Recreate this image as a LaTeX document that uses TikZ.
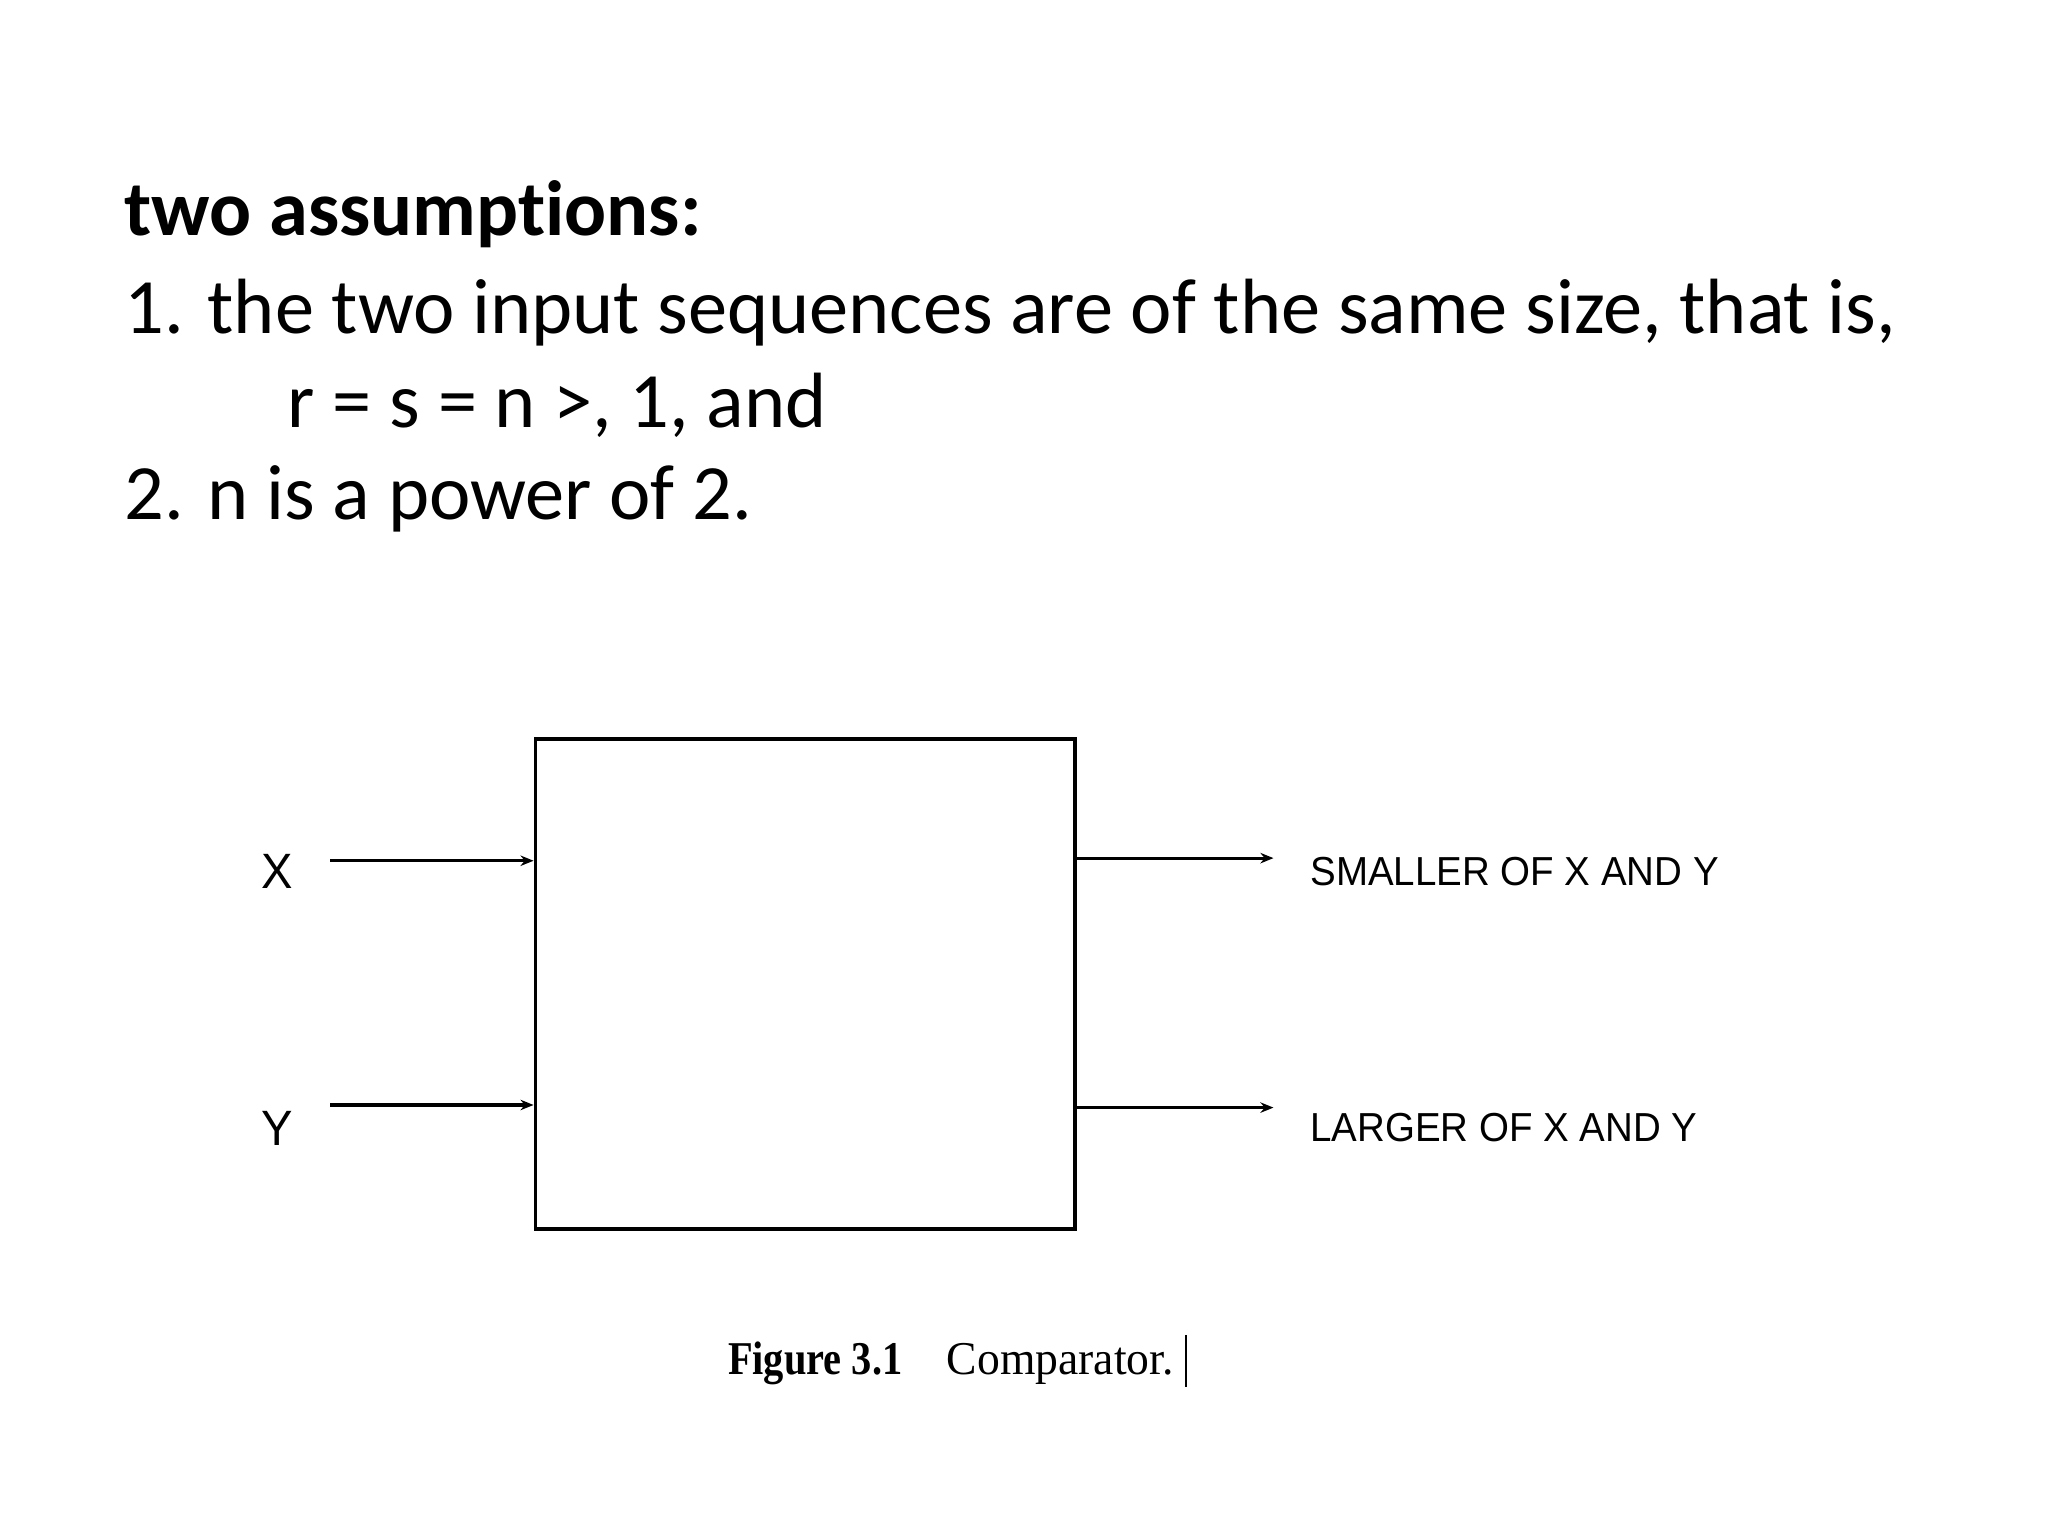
\documentclass[tikz,border=0pt]{standalone}
\usepackage{fontspec}
\setmainfont[RawFeature=-liga]{Carlito}
\newfontfamily\arialf{Liberation Sans}
\newfontfamily\timesf{Liberation Serif}
\usetikzlibrary{arrows.meta}
\begin{document}
\begin{tikzpicture}[x=0.5pt,y=-0.5pt,
  body/.style={anchor=base west,inner sep=0,font=\fontsize{30}{33}\selectfont},
  lab/.style={anchor=base west,inner sep=0,font=\arialf\fontsize{15.5}{18}\selectfont,xscale=0.95},
  io/.style={anchor=base west,inner sep=0,font=\arialf\fontsize{19}{22}\selectfont,xscale=0.95},
  wire/.style={line width=1.2pt,-{Stealth[length=5pt,width=4pt]}}]
\useasboundingbox (0,0) rectangle (1568,1176);
\node[body] (t0) at (95,180) {\textbf{two assumptions:}};
\node[body] (t1) at (95,255) {1. the two input sequences are of the same size, that is,};
\node[body] (t2) at (220,327) {r = s = n >, 1, and};
\node[body] (t3) at (95,398) {2. n is a power of 2.};
\node[draw,line width=1.5pt,minimum width=206.5pt,minimum height=187.5pt,inner sep=0] (box) at (616.5,753.5) {};
\coordinate (xi) at (253,659);
\coordinate (yi) at (253,846);
\coordinate (xo) at (975,657);
\coordinate (yo) at (975,848);
\draw[wire] (xi) -- (xi -| box.west);
\draw[wire] (yi) -- (yi -| box.west);
\draw[wire] (xo -| box.east) -- (xo);
\draw[wire] (yo -| box.east) -- (yo);
\node[io] (lx) at (200,680) {X};
\node[io] (ly) at (200,877) {Y};
\node[lab] (ls) at (1003,678) {SMALLER OF X AND Y};
\node[lab] (ll) at (1003,874) {LARGER OF X AND Y};
\node[anchor=base west,inner sep=0,font=\timesf\fontsize{18}{20}\selectfont] (cap) at (557,1052)
  {\scalebox{0.86}[1]{\textbf{Figure 3.1}}\hspace{17pt}\scalebox{0.97}[1]{Comparator.}};
\draw[line width=0.6pt] (908,1022) -- (908,1062);
\end{tikzpicture}
\end{document}
